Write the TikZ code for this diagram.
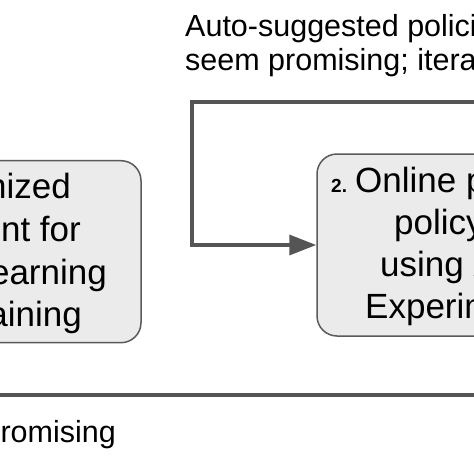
\documentclass[tikz,border=0pt]{standalone}
\usepackage{fontspec}
\setmainfont{Liberation Sans}
\usetikzlibrary{arrows.meta}

\definecolor{boxfill}{HTML}{EBEBEB}
\definecolor{boxline}{HTML}{5A5A5A}
\definecolor{flowgray}{HTML}{555555}

\begin{document}
\begin{tikzpicture}[x=1pt, y=-1pt,
  stagebox/.style={draw=boxline, fill=boxfill, line width=1.5pt, rounded corners=20pt, inner sep=0pt},
  flowline/.style={draw=flowgray, line width=3.5pt},
  bigtext/.style={inner sep=0pt, font=\fontsize{35}{42}\selectfont},
  notetext/.style={inner sep=0pt, font=\fontsize{30.5}{34}\selectfont}]
  \useasboundingbox (0,0) rectangle (474,474);
  \clip (0,0) rectangle (474,474);

  % the two stages
  \node[stagebox, minimum width=291pt, minimum height=182pt] (learn) at (-4.5,251.7) {};
  \node[stagebox, minimum width=283pt, minimum height=182pt] (online) at (458.5,245) {};

  % text of stage 1 (cut at the left edge)
  \node[bigtext, anchor=base east] (learn1) at (71,198) {nized};
  \node[bigtext, anchor=base east] (learn2) at (81,241) {nt for};
  \node[bigtext, anchor=base east] (learn3) at (107,284) {earning};
  \node[bigtext, anchor=base east] (learn4) at (82,326) {aining};

  % text of stage 2 (cut at the right edge)
  \node[inner sep=0pt, anchor=base west, font=\fontsize{19}{19}\selectfont\bfseries] (num2) at (331,192) {2.};
  \node[bigtext, anchor=base west] (online1) at (355,192) {Online p};
  \node[bigtext, anchor=base west] (online2) at (394,234) {policy};
  \node[bigtext, anchor=base west] (online3) at (380,276) {using A};
  \node[bigtext, anchor=base west] (online4) at (365,318) {Experim};

  % loop back into stage 2
  \coordinate (loopin) at (490,102);
  \coordinate (loopturn) at (192,102);
  \draw[flowline, -{Triangle[length=27pt, width=20pt]}]
    (loopin) -- (loopturn) |- (online.west);
  \node[notetext, anchor=base west] (note1) at (185,36.7) {Auto-suggested polici};
  \node[notetext, anchor=base west] (note2) at (185,70) {seem promising; itera};

  % lower line
  \coordinate (lowleft) at (-10,395);
  \coordinate (lowright) at (490,395);
  \draw[flowline] (lowleft) -- (lowright);
  \node[notetext, anchor=base east] (note3) at (116,442) {romising};
\end{tikzpicture}
\end{document}
